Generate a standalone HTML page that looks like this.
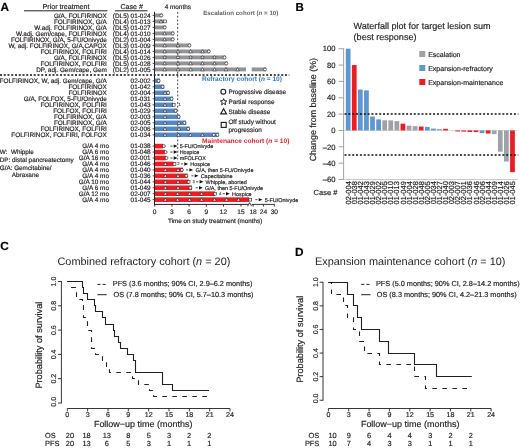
<!DOCTYPE html>
<html lang="en">
<head>
<meta charset="utf-8">
<title>Figure</title>
<style>
html,body{margin:0;padding:0;background:#fff;}
body{width:520px;height:448px;overflow:hidden;}
svg{display:block;}
svg text{font-family:'Liberation Sans', Arial, Helvetica, sans-serif;text-rendering:geometricPrecision;}
</style>
</head>
<body>
<svg width="520" height="448" viewBox="0 0 520 448" font-family="Liberation Sans, Arial, sans-serif" fill="#231f20">
<rect x="0" y="0" width="520" height="448" fill="#ffffff"/>
<text x="0.40" y="10.90" font-size="11.8" font-weight="bold" fill="#000" stroke="#000" stroke-width="0.18">A</text>
<text x="66.00" y="9.00" font-size="7.1" text-anchor="middle" stroke="#231f20" stroke-width="0.18">Prior treatment</text>
<line x1="24.00" y1="10.80" x2="107.50" y2="10.80" stroke="#231f20" stroke-width="1"/>
<text x="131.70" y="9.00" font-size="7.1" text-anchor="middle" stroke="#231f20" stroke-width="0.18">Case #</text>
<line x1="115.00" y1="10.80" x2="147.50" y2="10.80" stroke="#231f20" stroke-width="1"/>
<text x="177.80" y="9.00" font-size="6.4" text-anchor="middle" stroke="#231f20" stroke-width="0.18">4 months</text>
<text x="203.2" y="14.6" font-size="6.17" font-weight="bold" fill="#626366">Escalation cohort (<tspan font-style="italic">n</tspan> = 10)</text>
<text x="202" y="81.4" font-size="6.55" font-weight="bold" fill="#2e7cc0">Refractory cohort (<tspan font-style="italic">n</tspan> = 10)</text>
<text x="202" y="143.4" font-size="6.6" font-weight="bold" fill="#e5222b">Maintenance cohort (<tspan font-style="italic">n</tspan> = 10)</text>
<line x1="177.70" y1="12.00" x2="177.70" y2="159.50" stroke="#3a3a3a" stroke-width="0.95" stroke-dasharray="1.9 1.85"/>
<text x="106.80" y="17.65" font-size="6.4" text-anchor="end" stroke="#231f20" stroke-width="0.18">G/A, FOLFIRINOX</text>
<text x="150.50" y="17.65" font-size="6.4" text-anchor="end" stroke="#231f20" stroke-width="0.18">(DL5) 01-024</text>
<rect x="155.00" y="13.45" width="7.50" height="3.90" fill="#939496" />
<circle cx="161.30" cy="15.40" r="1.5" fill="#fff" stroke="#231f20" stroke-width="0.65"/>
<line x1="152.60" y1="15.40" x2="154.50" y2="15.40" stroke="#231f20" stroke-width="0.8"/>
<text x="106.80" y="23.65" font-size="6.4" text-anchor="end" stroke="#231f20" stroke-width="0.18">FOLFIRINOX, G/A</text>
<text x="150.50" y="23.65" font-size="6.4" text-anchor="end" stroke="#231f20" stroke-width="0.18">(DL4) 01-013</text>
<rect x="155.00" y="19.45" width="8.20" height="3.90" fill="#939496" />
<path d="M161.00 19.65L162.75 22.80L159.25 22.80Z" fill="#fff" stroke="#231f20" stroke-width="0.6"/>
<rect x="163.60" y="20.00" width="2.80" height="2.80" fill="#fff" stroke="#231f20" stroke-width="0.6"/>
<line x1="152.60" y1="21.40" x2="154.50" y2="21.40" stroke="#231f20" stroke-width="0.8"/>
<text x="106.80" y="29.65" font-size="6.4" text-anchor="end" stroke="#231f20" stroke-width="0.18">W.adj. FOLFIRINOX, G/A</text>
<text x="150.50" y="29.65" font-size="6.4" text-anchor="end" stroke="#231f20" stroke-width="0.18">(DL5) 01-027</text>
<rect x="155.00" y="25.45" width="11.00" height="3.90" fill="#939496" />
<circle cx="164.80" cy="27.40" r="1.5" fill="#fff" stroke="#231f20" stroke-width="0.65"/>
<line x1="152.60" y1="27.40" x2="154.50" y2="27.40" stroke="#231f20" stroke-width="0.8"/>
<text x="106.80" y="35.65" font-size="6.4" text-anchor="end" stroke="#231f20" stroke-width="0.18">W.adj. Gem/cape, FOLFIRINOX</text>
<text x="150.50" y="35.65" font-size="6.4" text-anchor="end" stroke="#231f20" stroke-width="0.18">(DL4) 01-010</text>
<rect x="155.00" y="31.45" width="19.00" height="3.90" fill="#939496" />
<path d="M164.60 31.65L166.35 34.80L162.85 34.80Z" fill="#fff" stroke="#231f20" stroke-width="0.6"/>
<circle cx="172.80" cy="33.40" r="1.5" fill="#fff" stroke="#231f20" stroke-width="0.65"/>
<line x1="152.60" y1="33.40" x2="154.50" y2="33.40" stroke="#231f20" stroke-width="0.8"/>
<text x="106.80" y="41.65" font-size="6.4" text-anchor="end" stroke="#231f20" stroke-width="0.18">FOLFIRINOX, G/A, 5-FU/Onivyde</text>
<text x="150.50" y="41.65" font-size="6.4" text-anchor="end" stroke="#231f20" stroke-width="0.18">(DL2) 01-004</text>
<rect x="155.00" y="37.45" width="19.00" height="3.90" fill="#939496" />
<path d="M164.60 37.65L166.35 40.80L162.85 40.80Z" fill="#fff" stroke="#231f20" stroke-width="0.6"/>
<circle cx="172.80" cy="39.40" r="1.5" fill="#fff" stroke="#231f20" stroke-width="0.65"/>
<line x1="152.60" y1="39.40" x2="154.50" y2="39.40" stroke="#231f20" stroke-width="0.8"/>
<text x="106.80" y="47.65" font-size="6.4" text-anchor="end" stroke="#231f20" stroke-width="0.18">W, adj. FOLFIRINOX, G/A,CAPOX</text>
<text x="150.50" y="47.65" font-size="6.4" text-anchor="end" stroke="#231f20" stroke-width="0.18">(DL3) 01-009</text>
<rect x="155.00" y="43.45" width="35.60" height="3.90" fill="#939496" />
<path d="M164.70 43.65L166.45 46.80L162.95 46.80Z" fill="#fff" stroke="#231f20" stroke-width="0.6"/>
<path d="M178.00 43.65L179.75 46.80L176.25 46.80Z" fill="#fff" stroke="#231f20" stroke-width="0.6"/>
<circle cx="189.40" cy="45.40" r="1.5" fill="#fff" stroke="#231f20" stroke-width="0.65"/>
<line x1="152.60" y1="45.40" x2="154.50" y2="45.40" stroke="#231f20" stroke-width="0.8"/>
<text x="106.80" y="53.65" font-size="6.4" text-anchor="end" stroke="#231f20" stroke-width="0.18">FOLFIRINOX, FOLFIRI</text>
<text x="150.50" y="53.65" font-size="6.4" text-anchor="end" stroke="#231f20" stroke-width="0.18">(DL4) 01-014</text>
<rect x="155.00" y="49.45" width="55.00" height="3.90" fill="#939496" />
<path d="M164.70 49.65L166.45 52.80L162.95 52.80Z" fill="#fff" stroke="#231f20" stroke-width="0.6"/>
<path d="M178.00 49.65L179.75 52.80L176.25 52.80Z" fill="#fff" stroke="#231f20" stroke-width="0.6"/>
<path d="M190.60 49.65L192.35 52.80L188.85 52.80Z" fill="#fff" stroke="#231f20" stroke-width="0.6"/>
<path d="M202.50 49.65L204.25 52.80L200.75 52.80Z" fill="#fff" stroke="#231f20" stroke-width="0.6"/>
<circle cx="208.80" cy="51.40" r="1.5" fill="#fff" stroke="#231f20" stroke-width="0.65"/>
<line x1="152.60" y1="51.40" x2="154.50" y2="51.40" stroke="#231f20" stroke-width="0.8"/>
<text x="106.80" y="59.65" font-size="6.4" text-anchor="end" stroke="#231f20" stroke-width="0.18">G/A, FOLFIRINOX</text>
<text x="150.50" y="59.65" font-size="6.4" text-anchor="end" stroke="#231f20" stroke-width="0.18">(DL5) 01-026</text>
<rect x="155.00" y="55.45" width="70.70" height="3.90" fill="#939496" />
<path d="M164.70 55.50L165.23 56.67L166.51 56.81L165.56 57.68L165.82 58.94L164.70 58.30L163.58 58.94L163.84 57.68L162.89 56.81L164.17 56.67Z" fill="#fff" stroke="#231f20" stroke-width="0.55"/>
<path d="M178.00 55.50L178.53 56.67L179.81 56.81L178.86 57.68L179.12 58.94L178.00 58.30L176.88 58.94L177.14 57.68L176.19 56.81L177.47 56.67Z" fill="#fff" stroke="#231f20" stroke-width="0.55"/>
<path d="M190.60 55.50L191.13 56.67L192.41 56.81L191.46 57.68L191.72 58.94L190.60 58.30L189.48 58.94L189.74 57.68L188.79 56.81L190.07 56.67Z" fill="#fff" stroke="#231f20" stroke-width="0.55"/>
<path d="M202.50 55.50L203.03 56.67L204.31 56.81L203.36 57.68L203.62 58.94L202.50 58.30L201.38 58.94L201.64 57.68L200.69 56.81L201.97 56.67Z" fill="#fff" stroke="#231f20" stroke-width="0.55"/>
<path d="M214.50 55.50L215.03 56.67L216.31 56.81L215.36 57.68L215.62 58.94L214.50 58.30L213.38 58.94L213.64 57.68L212.69 56.81L213.97 56.67Z" fill="#fff" stroke="#231f20" stroke-width="0.55"/>
<circle cx="224.50" cy="57.40" r="1.5" fill="#fff" stroke="#231f20" stroke-width="0.65"/>
<line x1="152.60" y1="57.40" x2="154.50" y2="57.40" stroke="#231f20" stroke-width="0.8"/>
<text x="106.80" y="65.65" font-size="6.4" text-anchor="end" stroke="#231f20" stroke-width="0.18">FOLFIRINOX, FOLFIRI</text>
<text x="150.50" y="65.65" font-size="6.4" text-anchor="end" stroke="#231f20" stroke-width="0.18">(DL5) 01-028</text>
<rect x="155.00" y="61.45" width="72.50" height="3.90" fill="#939496" />
<path d="M164.70 61.65L166.45 64.80L162.95 64.80Z" fill="#fff" stroke="#231f20" stroke-width="0.6"/>
<path d="M178.00 61.65L179.75 64.80L176.25 64.80Z" fill="#fff" stroke="#231f20" stroke-width="0.6"/>
<path d="M190.60 61.65L192.35 64.80L188.85 64.80Z" fill="#fff" stroke="#231f20" stroke-width="0.6"/>
<path d="M202.50 61.65L204.25 64.80L200.75 64.80Z" fill="#fff" stroke="#231f20" stroke-width="0.6"/>
<path d="M214.50 61.65L216.25 64.80L212.75 64.80Z" fill="#fff" stroke="#231f20" stroke-width="0.6"/>
<circle cx="226.30" cy="63.40" r="1.5" fill="#fff" stroke="#231f20" stroke-width="0.65"/>
<line x1="152.60" y1="63.40" x2="154.50" y2="63.40" stroke="#231f20" stroke-width="0.8"/>
<text x="106.80" y="71.65" font-size="6.4" text-anchor="end" stroke="#231f20" stroke-width="0.18">DP, adj. Gem/cape, Gem</text>
<text x="150.50" y="71.65" font-size="6.4" text-anchor="end" stroke="#231f20" stroke-width="0.18">(DL2) 01-005</text>
<rect x="155.00" y="67.45" width="91.00" height="3.90" fill="#939496" />
<rect x="251.70" y="67.45" width="14.30" height="3.90" fill="#939496" />
<circle cx="265.00" cy="69.40" r="1.5" fill="#fff" stroke="#231f20" stroke-width="0.65"/>
<path d="M164.70 67.65L166.45 70.80L162.95 70.80Z" fill="#fff" stroke="#231f20" stroke-width="0.6"/>
<path d="M178.00 67.65L179.75 70.80L176.25 70.80Z" fill="#fff" stroke="#231f20" stroke-width="0.6"/>
<path d="M190.70 67.65L192.45 70.80L188.95 70.80Z" fill="#fff" stroke="#231f20" stroke-width="0.6"/>
<path d="M202.50 67.65L204.25 70.80L200.75 70.80Z" fill="#fff" stroke="#231f20" stroke-width="0.6"/>
<path d="M214.50 67.65L216.25 70.80L212.75 70.80Z" fill="#fff" stroke="#231f20" stroke-width="0.6"/>
<path d="M226.00 67.65L227.75 70.80L224.25 70.80Z" fill="#fff" stroke="#231f20" stroke-width="0.6"/>
<path d="M237.50 67.65L239.25 70.80L235.75 70.80Z" fill="#fff" stroke="#231f20" stroke-width="0.6"/>
<line x1="152.60" y1="69.40" x2="154.50" y2="69.40" stroke="#231f20" stroke-width="0.8"/>
<line x1="0.00" y1="74.90" x2="289.30" y2="74.90" stroke="#111" stroke-width="1.5" stroke-dasharray="2 1.75"/>
<text x="106.80" y="83.05" font-size="6.4" text-anchor="end" stroke="#231f20" stroke-width="0.18">FOLFIRINOX, W, adj. Gem/cape, G/A</text>
<text x="150.50" y="83.05" font-size="6.4" text-anchor="end" stroke="#231f20" stroke-width="0.18">02-002</text>
<rect x="155.00" y="78.55" width="5.00" height="4.50" fill="#5587c4" />
<circle cx="158.60" cy="80.80" r="1.5" fill="#fff" stroke="#231f20" stroke-width="0.65"/>
<line x1="152.60" y1="80.80" x2="154.50" y2="80.80" stroke="#231f20" stroke-width="0.8"/>
<text x="106.80" y="89.05" font-size="6.4" text-anchor="end" stroke="#231f20" stroke-width="0.18">FOLFIRINOX</text>
<text x="150.50" y="89.05" font-size="6.4" text-anchor="end" stroke="#231f20" stroke-width="0.18">01-042</text>
<rect x="155.00" y="84.55" width="9.20" height="4.50" fill="#5587c4" />
<circle cx="162.60" cy="86.80" r="1.5" fill="#fff" stroke="#231f20" stroke-width="0.65"/>
<line x1="152.60" y1="86.80" x2="154.50" y2="86.80" stroke="#231f20" stroke-width="0.8"/>
<text x="106.80" y="95.05" font-size="6.4" text-anchor="end" stroke="#231f20" stroke-width="0.18">FOLFIRINOX</text>
<text x="150.50" y="95.05" font-size="6.4" text-anchor="end" stroke="#231f20" stroke-width="0.18">02-004</text>
<rect x="155.00" y="90.55" width="14.40" height="4.50" fill="#5587c4" />
<path d="M165.00 91.05L166.75 94.20L163.25 94.20Z" fill="#fff" stroke="#231f20" stroke-width="0.6"/>
<circle cx="168.10" cy="92.80" r="1.5" fill="#fff" stroke="#231f20" stroke-width="0.65"/>
<line x1="152.60" y1="92.80" x2="154.50" y2="92.80" stroke="#231f20" stroke-width="0.8"/>
<text x="106.80" y="101.05" font-size="6.4" text-anchor="end" stroke="#231f20" stroke-width="0.18">G/A, FOLFOX, 5-FU/Onivyde</text>
<text x="150.50" y="101.05" font-size="6.4" text-anchor="end" stroke="#231f20" stroke-width="0.18">01-031</text>
<rect x="155.00" y="96.55" width="18.00" height="4.50" fill="#5587c4" />
<path d="M165.00 97.05L166.75 100.20L163.25 100.20Z" fill="#fff" stroke="#231f20" stroke-width="0.6"/>
<circle cx="171.60" cy="98.80" r="1.5" fill="#fff" stroke="#231f20" stroke-width="0.65"/>
<line x1="152.60" y1="98.80" x2="154.50" y2="98.80" stroke="#231f20" stroke-width="0.8"/>
<text x="106.80" y="107.05" font-size="6.4" text-anchor="end" stroke="#231f20" stroke-width="0.18">FOLFIRINOX, FOLFIRI</text>
<text x="150.50" y="107.05" font-size="6.4" text-anchor="end" stroke="#231f20" stroke-width="0.18">01-043</text>
<rect x="155.00" y="102.55" width="18.00" height="4.50" fill="#5587c4" />
<path d="M165.00 103.05L166.75 106.20L163.25 106.20Z" fill="#fff" stroke="#231f20" stroke-width="0.6"/>
<rect x="172.30" y="103.40" width="2.80" height="2.80" fill="#fff" stroke="#231f20" stroke-width="0.6"/>
<line x1="152.60" y1="104.80" x2="154.50" y2="104.80" stroke="#231f20" stroke-width="0.8"/>
<text x="178.60" y="106.40" font-size="4.2" fill="#444" stroke="#444" stroke-width="0.18">1</text>
<text x="106.80" y="113.05" font-size="6.4" text-anchor="end" stroke="#231f20" stroke-width="0.18">FOLFOX, FOLFIRI</text>
<text x="150.50" y="113.05" font-size="6.4" text-anchor="end" stroke="#231f20" stroke-width="0.18">01-029</text>
<rect x="155.00" y="108.55" width="21.90" height="4.50" fill="#5587c4" />
<path d="M165.00 109.05L166.75 112.20L163.25 112.20Z" fill="#fff" stroke="#231f20" stroke-width="0.6"/>
<circle cx="175.60" cy="110.80" r="1.5" fill="#fff" stroke="#231f20" stroke-width="0.65"/>
<line x1="152.60" y1="110.80" x2="154.50" y2="110.80" stroke="#231f20" stroke-width="0.8"/>
<text x="106.80" y="119.05" font-size="6.4" text-anchor="end" stroke="#231f20" stroke-width="0.18">FOLFIRINOX, G/A</text>
<text x="150.50" y="119.05" font-size="6.4" text-anchor="end" stroke="#231f20" stroke-width="0.18">02-003</text>
<rect x="155.00" y="114.55" width="25.00" height="4.50" fill="#5587c4" />
<path d="M165.00 115.05L166.75 118.20L163.25 118.20Z" fill="#fff" stroke="#231f20" stroke-width="0.6"/>
<circle cx="178.70" cy="116.80" r="1.5" fill="#fff" stroke="#231f20" stroke-width="0.65"/>
<line x1="152.60" y1="116.80" x2="154.50" y2="116.80" stroke="#231f20" stroke-width="0.8"/>
<text x="106.80" y="125.05" font-size="6.4" text-anchor="end" stroke="#231f20" stroke-width="0.18">FOLFIRINOX, G/A</text>
<text x="150.50" y="125.05" font-size="6.4" text-anchor="end" stroke="#231f20" stroke-width="0.18">02-005</text>
<rect x="155.00" y="120.55" width="31.20" height="4.50" fill="#5587c4" />
<path d="M165.00 121.05L166.75 124.20L163.25 124.20Z" fill="#fff" stroke="#231f20" stroke-width="0.6"/>
<path d="M179.00 121.05L180.75 124.20L177.25 124.20Z" fill="#fff" stroke="#231f20" stroke-width="0.6"/>
<circle cx="184.40" cy="122.80" r="1.5" fill="#fff" stroke="#231f20" stroke-width="0.65"/>
<line x1="152.60" y1="122.80" x2="154.50" y2="122.80" stroke="#231f20" stroke-width="0.8"/>
<text x="106.80" y="131.05" font-size="6.4" text-anchor="end" stroke="#231f20" stroke-width="0.18">FOLFIRINOX, FOLFIRI</text>
<text x="150.50" y="131.05" font-size="6.4" text-anchor="end" stroke="#231f20" stroke-width="0.18">02-006</text>
<rect x="155.00" y="126.55" width="34.70" height="4.50" fill="#5587c4" />
<path d="M165.00 127.05L166.75 130.20L163.25 130.20Z" fill="#fff" stroke="#231f20" stroke-width="0.6"/>
<path d="M179.00 127.05L180.75 130.20L177.25 130.20Z" fill="#fff" stroke="#231f20" stroke-width="0.6"/>
<circle cx="188.20" cy="128.80" r="1.5" fill="#fff" stroke="#231f20" stroke-width="0.65"/>
<line x1="152.60" y1="128.80" x2="154.50" y2="128.80" stroke="#231f20" stroke-width="0.8"/>
<text x="106.80" y="137.05" font-size="6.4" text-anchor="end" stroke="#231f20" stroke-width="0.18">FOLFIRINOX, FOLFIRI, FOLFOX</text>
<text x="150.50" y="137.05" font-size="6.4" text-anchor="end" stroke="#231f20" stroke-width="0.18">01-034</text>
<rect x="155.00" y="132.55" width="63.70" height="4.50" fill="#5587c4" />
<path d="M165.00 133.05L166.75 136.20L163.25 136.20Z" fill="#fff" stroke="#231f20" stroke-width="0.6"/>
<path d="M178.50 133.05L180.25 136.20L176.75 136.20Z" fill="#fff" stroke="#231f20" stroke-width="0.6"/>
<path d="M190.30 133.05L192.05 136.20L188.55 136.20Z" fill="#fff" stroke="#231f20" stroke-width="0.6"/>
<path d="M202.50 133.05L204.25 136.20L200.75 136.20Z" fill="#fff" stroke="#231f20" stroke-width="0.6"/>
<circle cx="213.80" cy="134.80" r="1.5" fill="#fff" stroke="#231f20" stroke-width="0.65"/>
<circle cx="217.40" cy="134.80" r="1.5" fill="#fff" stroke="#231f20" stroke-width="0.65"/>
<line x1="152.60" y1="134.80" x2="154.50" y2="134.80" stroke="#231f20" stroke-width="0.8"/>
<text x="109.00" y="148.35" font-size="6.4" text-anchor="end" stroke="#231f20" stroke-width="0.18">G/A 4 mo</text>
<text x="150.50" y="148.35" font-size="6.4" text-anchor="end" stroke="#231f20" stroke-width="0.18">01-038</text>
<rect x="155.00" y="143.80" width="8.00" height="4.60" fill="#ec1c24" />
<circle cx="163.90" cy="146.10" r="1.5" fill="#fff" stroke="#231f20" stroke-width="0.65"/>
<line x1="152.60" y1="146.10" x2="154.50" y2="146.10" stroke="#231f20" stroke-width="0.8"/>
<line x1="170.30" y1="146.10" x2="172.50" y2="146.10" stroke="#231f20" stroke-width="0.8"/>
<path d="M173.70 144.40L177.50 146.10L173.70 147.80Z" fill="#111"/>
<text x="179.70" y="148.10" font-size="5.45" stroke="#231f20" stroke-width="0.18">5-FU/Onivyde</text>
<text x="109.00" y="154.30" font-size="6.4" text-anchor="end" stroke="#231f20" stroke-width="0.18">G/A 6 mo</text>
<text x="150.50" y="154.30" font-size="6.4" text-anchor="end" stroke="#231f20" stroke-width="0.18">01-048</text>
<rect x="155.00" y="149.75" width="10.00" height="4.60" fill="#ec1c24" />
<circle cx="165.60" cy="152.05" r="1.5" fill="#fff" stroke="#231f20" stroke-width="0.65"/>
<line x1="152.60" y1="152.05" x2="154.50" y2="152.05" stroke="#231f20" stroke-width="0.8"/>
<line x1="170.30" y1="152.05" x2="172.50" y2="152.05" stroke="#231f20" stroke-width="0.8"/>
<path d="M173.70 150.35L177.50 152.05L173.70 153.75Z" fill="#111"/>
<text x="179.70" y="154.05" font-size="5.45" stroke="#231f20" stroke-width="0.18">Hospice</text>
<text x="109.00" y="160.25" font-size="6.4" text-anchor="end" stroke="#231f20" stroke-width="0.18">G/A 16 mo</text>
<text x="150.50" y="160.25" font-size="6.4" text-anchor="end" stroke="#231f20" stroke-width="0.18">02-001</text>
<rect x="155.00" y="155.70" width="11.20" height="4.60" fill="#ec1c24" />
<circle cx="166.50" cy="158.00" r="1.5" fill="#fff" stroke="#231f20" stroke-width="0.65"/>
<line x1="152.60" y1="158.00" x2="154.50" y2="158.00" stroke="#231f20" stroke-width="0.8"/>
<line x1="170.30" y1="158.00" x2="172.50" y2="158.00" stroke="#231f20" stroke-width="0.8"/>
<path d="M173.70 156.30L177.50 158.00L173.70 159.70Z" fill="#111"/>
<text x="179.70" y="160.00" font-size="5.45" stroke="#231f20" stroke-width="0.18">mFOLFOX</text>
<text x="109.00" y="166.20" font-size="6.4" text-anchor="end" stroke="#231f20" stroke-width="0.18">G/A 4 mo</text>
<text x="150.50" y="166.20" font-size="6.4" text-anchor="end" stroke="#231f20" stroke-width="0.18">01-046</text>
<rect x="155.00" y="161.65" width="18.40" height="4.60" fill="#ec1c24" />
<path d="M165.30 162.20L167.05 165.35L163.55 165.35Z" fill="#fff" stroke="#231f20" stroke-width="0.6"/>
<rect x="173.10" y="162.55" width="2.80" height="2.80" fill="#fff" stroke="#231f20" stroke-width="0.6"/>
<line x1="152.60" y1="163.95" x2="154.50" y2="163.95" stroke="#231f20" stroke-width="0.8"/>
<text x="177.30" y="165.45" font-size="4.2" fill="#555" stroke="#555" stroke-width="0.18">2</text>
<line x1="180.90" y1="163.95" x2="183.10" y2="163.95" stroke="#231f20" stroke-width="0.8"/>
<path d="M184.30 162.25L188.10 163.95L184.30 165.65Z" fill="#111"/>
<text x="190.30" y="165.95" font-size="5.45" stroke="#231f20" stroke-width="0.18">Hospice</text>
<text x="109.00" y="172.15" font-size="6.4" text-anchor="end" stroke="#231f20" stroke-width="0.18">G/A 4 mo</text>
<text x="150.50" y="172.15" font-size="6.4" text-anchor="end" stroke="#231f20" stroke-width="0.18">01-040</text>
<rect x="155.00" y="167.60" width="28.00" height="4.60" fill="#ec1c24" />
<path d="M165.30 168.15L167.05 171.30L163.55 171.30Z" fill="#fff" stroke="#231f20" stroke-width="0.6"/>
<path d="M178.00 168.15L179.75 171.30L176.25 171.30Z" fill="#fff" stroke="#231f20" stroke-width="0.6"/>
<circle cx="181.90" cy="169.90" r="1.5" fill="#fff" stroke="#231f20" stroke-width="0.65"/>
<line x1="152.60" y1="169.90" x2="154.50" y2="169.90" stroke="#231f20" stroke-width="0.8"/>
<line x1="186.00" y1="169.90" x2="188.20" y2="169.90" stroke="#231f20" stroke-width="0.8"/>
<path d="M189.40 168.20L193.20 169.90L189.40 171.60Z" fill="#111"/>
<text x="195.40" y="171.90" font-size="5.45" stroke="#231f20" stroke-width="0.18">G/A, then 5-FU/Onivyde</text>
<text x="109.00" y="178.10" font-size="6.4" text-anchor="end" stroke="#231f20" stroke-width="0.18">G/A 4 mo</text>
<text x="150.50" y="178.10" font-size="6.4" text-anchor="end" stroke="#231f20" stroke-width="0.18">01-036</text>
<rect x="155.00" y="173.55" width="32.60" height="4.60" fill="#ec1c24" />
<path d="M165.30 174.10L167.05 177.25L163.55 177.25Z" fill="#fff" stroke="#231f20" stroke-width="0.6"/>
<path d="M178.00 174.10L179.75 177.25L176.25 177.25Z" fill="#fff" stroke="#231f20" stroke-width="0.6"/>
<circle cx="186.30" cy="175.85" r="1.5" fill="#fff" stroke="#231f20" stroke-width="0.65"/>
<line x1="152.60" y1="175.85" x2="154.50" y2="175.85" stroke="#231f20" stroke-width="0.8"/>
<line x1="191.30" y1="175.85" x2="193.50" y2="175.85" stroke="#231f20" stroke-width="0.8"/>
<path d="M194.70 174.15L198.50 175.85L194.70 177.55Z" fill="#111"/>
<text x="200.70" y="177.85" font-size="5.45" stroke="#231f20" stroke-width="0.18">Capecitabine</text>
<text x="109.00" y="184.05" font-size="6.4" text-anchor="end" stroke="#231f20" stroke-width="0.18">G/A 10 mo</text>
<text x="150.50" y="184.05" font-size="6.4" text-anchor="end" stroke="#231f20" stroke-width="0.18">01-044</text>
<rect x="155.00" y="179.50" width="34.00" height="4.60" fill="#ec1c24" />
<path d="M165.30 180.05L167.05 183.20L163.55 183.20Z" fill="#fff" stroke="#231f20" stroke-width="0.6"/>
<path d="M178.00 180.05L179.75 183.20L176.25 183.20Z" fill="#fff" stroke="#231f20" stroke-width="0.6"/>
<rect x="187.20" y="180.40" width="2.80" height="2.80" fill="#fff" stroke="#231f20" stroke-width="0.6"/>
<line x1="152.60" y1="181.80" x2="154.50" y2="181.80" stroke="#231f20" stroke-width="0.8"/>
<text x="192.60" y="183.30" font-size="4.2" fill="#555" stroke="#555" stroke-width="0.18">3</text>
<line x1="196.20" y1="181.80" x2="198.40" y2="181.80" stroke="#231f20" stroke-width="0.8"/>
<path d="M199.60 180.10L203.40 181.80L199.60 183.50Z" fill="#111"/>
<text x="205.60" y="183.80" font-size="5.45" stroke="#231f20" stroke-width="0.18">Whipple, aborted</text>
<text x="109.00" y="190.00" font-size="6.4" text-anchor="end" stroke="#231f20" stroke-width="0.18">G/A 6 mo</text>
<text x="150.50" y="190.00" font-size="6.4" text-anchor="end" stroke="#231f20" stroke-width="0.18">01-049</text>
<rect x="155.00" y="185.45" width="37.00" height="4.60" fill="#ec1c24" />
<path d="M165.30 186.00L167.05 189.15L163.55 189.15Z" fill="#fff" stroke="#231f20" stroke-width="0.6"/>
<path d="M178.00 186.00L179.75 189.15L176.25 189.15Z" fill="#fff" stroke="#231f20" stroke-width="0.6"/>
<circle cx="190.40" cy="187.75" r="1.5" fill="#fff" stroke="#231f20" stroke-width="0.65"/>
<line x1="152.60" y1="187.75" x2="154.50" y2="187.75" stroke="#231f20" stroke-width="0.8"/>
<line x1="195.60" y1="187.75" x2="197.80" y2="187.75" stroke="#231f20" stroke-width="0.8"/>
<path d="M199.00 186.05L202.80 187.75L199.00 189.45Z" fill="#111"/>
<text x="205.00" y="189.75" font-size="5.45" stroke="#231f20" stroke-width="0.18">G/A, then 5-FU/Onivyde</text>
<text x="109.00" y="195.95" font-size="6.4" text-anchor="end" stroke="#231f20" stroke-width="0.18">G/A 12 mo</text>
<text x="150.50" y="195.95" font-size="6.4" text-anchor="end" stroke="#231f20" stroke-width="0.18">02-007</text>
<rect x="155.00" y="191.40" width="60.00" height="4.60" fill="#ec1c24" />
<path d="M165.30 191.95L167.05 195.10L163.55 195.10Z" fill="#fff" stroke="#231f20" stroke-width="0.6"/>
<path d="M177.60 191.95L179.35 195.10L175.85 195.10Z" fill="#fff" stroke="#231f20" stroke-width="0.6"/>
<path d="M189.50 191.95L191.25 195.10L187.75 195.10Z" fill="#fff" stroke="#231f20" stroke-width="0.6"/>
<path d="M201.60 191.95L203.35 195.10L199.85 195.10Z" fill="#fff" stroke="#231f20" stroke-width="0.6"/>
<rect x="213.80" y="192.30" width="2.80" height="2.80" fill="#fff" stroke="#231f20" stroke-width="0.6"/>
<line x1="152.60" y1="193.70" x2="154.50" y2="193.70" stroke="#231f20" stroke-width="0.8"/>
<text x="219.00" y="195.20" font-size="4.2" fill="#555" stroke="#555" stroke-width="0.18">4</text>
<line x1="222.60" y1="193.70" x2="224.80" y2="193.70" stroke="#231f20" stroke-width="0.8"/>
<path d="M226.00 192.00L229.80 193.70L226.00 195.40Z" fill="#111"/>
<text x="232.00" y="195.70" font-size="5.45" stroke="#231f20" stroke-width="0.18">Hospice</text>
<text x="109.00" y="201.90" font-size="6.4" text-anchor="end" stroke="#231f20" stroke-width="0.18">G/A 4 mo</text>
<text x="150.50" y="201.90" font-size="6.4" text-anchor="end" stroke="#231f20" stroke-width="0.18">01-045</text>
<rect x="155.00" y="197.35" width="94.00" height="4.60" fill="#ec1c24" />
<path d="M165.30 197.90L167.05 201.05L163.55 201.05Z" fill="#fff" stroke="#231f20" stroke-width="0.6"/>
<path d="M177.60 197.90L179.35 201.05L175.85 201.05Z" fill="#fff" stroke="#231f20" stroke-width="0.6"/>
<path d="M189.50 197.90L191.25 201.05L187.75 201.05Z" fill="#fff" stroke="#231f20" stroke-width="0.6"/>
<path d="M201.60 197.90L203.35 201.05L199.85 201.05Z" fill="#fff" stroke="#231f20" stroke-width="0.6"/>
<path d="M214.50 197.90L216.25 201.05L212.75 201.05Z" fill="#fff" stroke="#231f20" stroke-width="0.6"/>
<path d="M226.60 197.90L228.35 201.05L224.85 201.05Z" fill="#fff" stroke="#231f20" stroke-width="0.6"/>
<path d="M238.40 197.90L240.15 201.05L236.65 201.05Z" fill="#fff" stroke="#231f20" stroke-width="0.6"/>
<rect x="248.90" y="198.25" width="2.80" height="2.80" fill="#fff" stroke="#231f20" stroke-width="0.6"/>
<line x1="152.60" y1="199.65" x2="154.50" y2="199.65" stroke="#231f20" stroke-width="0.8"/>
<line x1="255.30" y1="199.65" x2="257.50" y2="199.65" stroke="#231f20" stroke-width="0.8"/>
<path d="M258.70 197.95L262.50 199.65L258.70 201.35Z" fill="#111"/>
<text x="264.70" y="201.65" font-size="5.45" stroke="#231f20" stroke-width="0.18">5-FU/Onivyde</text>
<line x1="154.50" y1="11.80" x2="154.50" y2="204.80" stroke="#231f20" stroke-width="1.0"/>
<line x1="154.00" y1="204.40" x2="248.20" y2="204.40" stroke="#231f20" stroke-width="1.0"/>
<path d="M247.6 206.3L249.6 202.6L251.3 205.6L252.2 204.4L274.6 204.4" fill="none" stroke="#231f20" stroke-width="0.9"/>
<line x1="154.70" y1="204.40" x2="154.70" y2="206.60" stroke="#231f20" stroke-width="0.9"/>
<text x="154.70" y="213.60" font-size="6.6" text-anchor="middle" stroke="#231f20" stroke-width="0.18">0</text>
<line x1="171.90" y1="204.40" x2="171.90" y2="206.60" stroke="#231f20" stroke-width="0.9"/>
<text x="171.90" y="213.60" font-size="6.6" text-anchor="middle" stroke="#231f20" stroke-width="0.18">3</text>
<line x1="189.10" y1="204.40" x2="189.10" y2="206.60" stroke="#231f20" stroke-width="0.9"/>
<text x="189.10" y="213.60" font-size="6.6" text-anchor="middle" stroke="#231f20" stroke-width="0.18">6</text>
<line x1="206.30" y1="204.40" x2="206.30" y2="206.60" stroke="#231f20" stroke-width="0.9"/>
<text x="206.30" y="213.60" font-size="6.6" text-anchor="middle" stroke="#231f20" stroke-width="0.18">9</text>
<line x1="223.50" y1="204.40" x2="223.50" y2="206.60" stroke="#231f20" stroke-width="0.9"/>
<text x="223.50" y="213.60" font-size="6.6" text-anchor="middle" stroke="#231f20" stroke-width="0.18">12</text>
<line x1="241.00" y1="204.40" x2="241.00" y2="206.60" stroke="#231f20" stroke-width="0.9"/>
<text x="241.00" y="213.60" font-size="6.6" text-anchor="middle" stroke="#231f20" stroke-width="0.18">15</text>
<line x1="253.10" y1="204.40" x2="253.10" y2="206.60" stroke="#231f20" stroke-width="0.9"/>
<text x="253.10" y="213.60" font-size="6.6" text-anchor="middle" stroke="#231f20" stroke-width="0.18">18</text>
<line x1="263.40" y1="204.40" x2="263.40" y2="206.60" stroke="#231f20" stroke-width="0.9"/>
<text x="263.40" y="213.60" font-size="6.6" text-anchor="middle" stroke="#231f20" stroke-width="0.18">24</text>
<line x1="274.30" y1="204.40" x2="274.30" y2="206.60" stroke="#231f20" stroke-width="0.9"/>
<text x="274.30" y="213.60" font-size="6.6" text-anchor="middle" stroke="#231f20" stroke-width="0.18">30</text>
<text x="215.20" y="222.90" font-size="6.3" text-anchor="middle" stroke="#231f20" stroke-width="0.18">Time on study treatment (months)</text>
<circle cx="223.30" cy="91.70" r="2.45" fill="#fff" stroke="#231f20" stroke-width="1.2"/>
<text x="228.40" y="93.90" font-size="6.4" stroke="#231f20" stroke-width="0.18">Progressive disease</text>
<path d="M223.60 98.60L224.48 100.79L226.83 100.95L225.03 102.46L225.60 104.75L223.60 103.50L221.60 104.75L222.17 102.46L220.37 100.95L222.72 100.79Z" fill="#fff" stroke="#231f20" stroke-width="1.0"/>
<text x="228.40" y="103.60" font-size="6.4" stroke="#231f20" stroke-width="0.18">Partial response</text>
<path d="M223.60 108.70L226.50 113.92L220.70 113.92Z" fill="#fff" stroke="#231f20" stroke-width="1.15"/>
<text x="228.40" y="113.50" font-size="6.4" stroke="#231f20" stroke-width="0.18">Stable disease</text>
<rect x="221.20" y="122.40" width="5.00" height="5.00" fill="#fff" stroke="#231f20" stroke-width="1.15"/>
<text x="228.40" y="123.90" font-size="6.4" stroke="#231f20" stroke-width="0.18">Off study without</text>
<text x="228.40" y="131.60" font-size="6.4" stroke="#231f20" stroke-width="0.18">progression</text>
<text x="-0.20" y="154.20" font-size="6.35" stroke="#231f20" stroke-width="0.18">W:</text>
<text x="10.90" y="154.20" font-size="6.35" stroke="#231f20" stroke-width="0.18">Whipple</text>
<text x="-0.30" y="161.80" font-size="6.35" stroke="#231f20" stroke-width="0.18">DP: distal pancreatectomy</text>
<text x="-0.30" y="169.50" font-size="6.35" stroke="#231f20" stroke-width="0.18">G/A: Gemcitabine/</text>
<text x="11.80" y="176.80" font-size="6.35" stroke="#231f20" stroke-width="0.18">Abraxane</text>
<text x="295.60" y="11.20" font-size="11.5" font-weight="bold" fill="#000" stroke="#000" stroke-width="0.18">B</text>
<text x="353.60" y="29.00" font-size="9.05" stroke="#231f20" stroke-width="0.18">Waterfall plot for target lesion sum</text>
<text x="353.60" y="39.70" font-size="9.05" stroke="#231f20" stroke-width="0.18">(best response)</text>
<line x1="343.60" y1="48.40" x2="343.60" y2="179.90" stroke="#98999c" stroke-width="0.9"/>
<line x1="343.20" y1="179.50" x2="518.00" y2="179.50" stroke="#bcbec0" stroke-width="0.8"/>
<line x1="343.60" y1="130.45" x2="518.00" y2="130.45" stroke="#c9cacc" stroke-width="0.7"/>
<line x1="338.60" y1="48.70" x2="343.60" y2="48.70" stroke="#98999c" stroke-width="0.9"/>
<text x="335.50" y="51.40" font-size="7.6" text-anchor="end" stroke="#231f20" stroke-width="0.18">100</text>
<line x1="338.60" y1="65.05" x2="343.60" y2="65.05" stroke="#98999c" stroke-width="0.9"/>
<text x="335.50" y="67.75" font-size="7.6" text-anchor="end" stroke="#231f20" stroke-width="0.18">80</text>
<line x1="338.60" y1="81.40" x2="343.60" y2="81.40" stroke="#98999c" stroke-width="0.9"/>
<text x="335.50" y="84.10" font-size="7.6" text-anchor="end" stroke="#231f20" stroke-width="0.18">60</text>
<line x1="338.60" y1="97.75" x2="343.60" y2="97.75" stroke="#98999c" stroke-width="0.9"/>
<text x="335.50" y="100.45" font-size="7.6" text-anchor="end" stroke="#231f20" stroke-width="0.18">40</text>
<line x1="338.60" y1="114.10" x2="343.60" y2="114.10" stroke="#98999c" stroke-width="0.9"/>
<text x="335.50" y="116.80" font-size="7.6" text-anchor="end" stroke="#231f20" stroke-width="0.18">20</text>
<line x1="338.60" y1="130.45" x2="343.60" y2="130.45" stroke="#98999c" stroke-width="0.9"/>
<text x="335.50" y="133.15" font-size="7.6" text-anchor="end" stroke="#231f20" stroke-width="0.18">0</text>
<line x1="338.60" y1="146.80" x2="343.60" y2="146.80" stroke="#98999c" stroke-width="0.9"/>
<text x="335.50" y="149.50" font-size="7.6" text-anchor="end" stroke="#231f20" stroke-width="0.18">–20</text>
<line x1="338.60" y1="163.15" x2="343.60" y2="163.15" stroke="#98999c" stroke-width="0.9"/>
<text x="335.50" y="165.85" font-size="7.6" text-anchor="end" stroke="#231f20" stroke-width="0.18">–40</text>
<line x1="338.60" y1="179.50" x2="343.60" y2="179.50" stroke="#98999c" stroke-width="0.9"/>
<text x="335.50" y="182.20" font-size="7.6" text-anchor="end" stroke="#231f20" stroke-width="0.18">–60</text>
<rect x="345.80" y="48.70" width="4.75" height="81.75" fill="#5e98d2" />
<text x="350.78" y="181.20" font-size="7.45" text-anchor="end" stroke="#231f20" stroke-width="0.18" transform="rotate(-90 350.78 181.20)">02-004</text>
<rect x="351.88" y="65.05" width="4.75" height="65.40" fill="#ed1c24" />
<text x="356.86" y="181.20" font-size="7.45" text-anchor="end" stroke="#231f20" stroke-width="0.18" transform="rotate(-90 356.86 181.20)">01-038</text>
<rect x="357.97" y="89.57" width="4.75" height="40.88" fill="#5e98d2" />
<text x="362.95" y="181.20" font-size="7.45" text-anchor="end" stroke="#231f20" stroke-width="0.18" transform="rotate(-90 362.95 181.20)">01-042</text>
<rect x="364.06" y="90.39" width="4.75" height="40.06" fill="#5e98d2" />
<text x="369.03" y="181.20" font-size="7.45" text-anchor="end" stroke="#231f20" stroke-width="0.18" transform="rotate(-90 369.03 181.20)">01-043</text>
<rect x="370.14" y="116.55" width="4.75" height="13.90" fill="#5e98d2" />
<text x="375.12" y="181.20" font-size="7.45" text-anchor="end" stroke="#231f20" stroke-width="0.18" transform="rotate(-90 375.12 181.20)">01-029</text>
<rect x="376.23" y="119.41" width="4.75" height="11.04" fill="#5e98d2" />
<text x="381.20" y="181.20" font-size="7.45" text-anchor="end" stroke="#231f20" stroke-width="0.18" transform="rotate(-90 381.20 181.20)">02-002</text>
<rect x="382.31" y="120.31" width="4.75" height="10.14" fill="#a1a2a5" />
<text x="387.29" y="181.20" font-size="7.45" text-anchor="end" stroke="#231f20" stroke-width="0.18" transform="rotate(-90 387.29 181.20)">01-005</text>
<rect x="388.39" y="120.39" width="4.75" height="10.06" fill="#a1a2a5" />
<text x="393.37" y="181.20" font-size="7.45" text-anchor="end" stroke="#231f20" stroke-width="0.18" transform="rotate(-90 393.37 181.20)">01-010</text>
<rect x="394.48" y="121.13" width="4.75" height="9.32" fill="#a1a2a5" />
<text x="399.46" y="181.20" font-size="7.45" text-anchor="end" stroke="#231f20" stroke-width="0.18" transform="rotate(-90 399.46 181.20)">01-013</text>
<rect x="400.56" y="123.66" width="4.75" height="6.79" fill="#ed1c24" />
<text x="405.54" y="181.20" font-size="7.45" text-anchor="end" stroke="#231f20" stroke-width="0.18" transform="rotate(-90 405.54 181.20)">01-049</text>
<rect x="406.65" y="125.63" width="4.75" height="4.82" fill="#a1a2a5" />
<text x="411.63" y="181.20" font-size="7.45" text-anchor="end" stroke="#231f20" stroke-width="0.18" transform="rotate(-90 411.63 181.20)">01-004</text>
<rect x="412.74" y="126.12" width="4.75" height="4.33" fill="#a1a2a5" />
<text x="417.71" y="181.20" font-size="7.45" text-anchor="end" stroke="#231f20" stroke-width="0.18" transform="rotate(-90 417.71 181.20)">01-028</text>
<rect x="418.82" y="126.53" width="4.75" height="3.92" fill="#ed1c24" />
<text x="423.80" y="181.20" font-size="7.45" text-anchor="end" stroke="#231f20" stroke-width="0.18" transform="rotate(-90 423.80 181.20)">01-048</text>
<rect x="424.91" y="126.93" width="4.75" height="3.52" fill="#5e98d2" />
<text x="429.88" y="181.20" font-size="7.45" text-anchor="end" stroke="#231f20" stroke-width="0.18" transform="rotate(-90 429.88 181.20)">02-005</text>
<rect x="430.99" y="128.65" width="4.75" height="1.80" fill="#5e98d2" />
<text x="435.97" y="181.20" font-size="7.45" text-anchor="end" stroke="#231f20" stroke-width="0.18" transform="rotate(-90 435.97 181.20)">01-034</text>
<rect x="437.08" y="128.98" width="4.75" height="1.47" fill="#a1a2a5" />
<text x="442.05" y="181.20" font-size="7.45" text-anchor="end" stroke="#231f20" stroke-width="0.18" transform="rotate(-90 442.05 181.20)">01-027</text>
<rect x="443.16" y="128.81" width="4.75" height="1.64" fill="#ed1c24" />
<text x="448.14" y="181.20" font-size="7.45" text-anchor="end" stroke="#231f20" stroke-width="0.18" transform="rotate(-90 448.14 181.20)">01-040</text>
<text x="454.22" y="181.20" font-size="7.45" text-anchor="end" stroke="#231f20" stroke-width="0.18" transform="rotate(-90 454.22 181.20)">02-003</text>
<rect x="455.33" y="130.45" width="4.75" height="0.98" fill="#ed1c24" />
<text x="460.31" y="181.20" font-size="7.45" text-anchor="end" stroke="#231f20" stroke-width="0.18" transform="rotate(-90 460.31 181.20)">02-007</text>
<rect x="461.42" y="130.45" width="4.75" height="1.14" fill="#ed1c24" />
<text x="466.39" y="181.20" font-size="7.45" text-anchor="end" stroke="#231f20" stroke-width="0.18" transform="rotate(-90 466.39 181.20)">02-001</text>
<rect x="467.50" y="130.45" width="4.75" height="1.55" fill="#ed1c24" />
<text x="472.48" y="181.20" font-size="7.45" text-anchor="end" stroke="#231f20" stroke-width="0.18" transform="rotate(-90 472.48 181.20)">01-036</text>
<rect x="473.59" y="130.45" width="4.75" height="1.64" fill="#ed1c24" />
<text x="478.56" y="181.20" font-size="7.45" text-anchor="end" stroke="#231f20" stroke-width="0.18" transform="rotate(-90 478.56 181.20)">01-046</text>
<rect x="479.67" y="130.45" width="4.75" height="2.70" fill="#5e98d2" />
<text x="484.65" y="181.20" font-size="7.45" text-anchor="end" stroke="#231f20" stroke-width="0.18" transform="rotate(-90 484.65 181.20)">02-006</text>
<rect x="485.75" y="130.45" width="4.75" height="3.11" fill="#ed1c24" />
<text x="490.73" y="181.20" font-size="7.45" text-anchor="end" stroke="#231f20" stroke-width="0.18" transform="rotate(-90 490.73 181.20)">01-044</text>
<rect x="491.84" y="130.45" width="4.75" height="3.60" fill="#a1a2a5" />
<text x="496.82" y="181.20" font-size="7.45" text-anchor="end" stroke="#231f20" stroke-width="0.18" transform="rotate(-90 496.82 181.20)">01-009</text>
<rect x="497.93" y="130.45" width="4.75" height="21.25" fill="#a1a2a5" />
<text x="502.90" y="181.20" font-size="7.45" text-anchor="end" stroke="#231f20" stroke-width="0.18" transform="rotate(-90 502.90 181.20)">01-014</text>
<rect x="504.01" y="130.45" width="4.75" height="31.07" fill="#a1a2a5" />
<text x="508.99" y="181.20" font-size="7.45" text-anchor="end" stroke="#231f20" stroke-width="0.18" transform="rotate(-90 508.99 181.20)">01-026</text>
<rect x="510.10" y="130.45" width="4.75" height="41.69" fill="#ed1c24" />
<text x="515.07" y="181.20" font-size="7.45" text-anchor="end" stroke="#231f20" stroke-width="0.18" transform="rotate(-90 515.07 181.20)">01-045</text>
<line x1="344.50" y1="113.90" x2="518.30" y2="113.90" stroke="#111" stroke-width="1.5" stroke-dasharray="2 1.85"/>
<line x1="344.50" y1="155.10" x2="518.30" y2="155.10" stroke="#111" stroke-width="1.5" stroke-dasharray="2 1.85"/>
<text x="313.60" y="194.60" font-size="7.5" stroke="#231f20" stroke-width="0.18">Case #</text>
<text x="315.90" y="161.30" font-size="8.9" stroke="#231f20" stroke-width="0.18" transform="rotate(-90 315.90 161.30)" textLength="103.40" lengthAdjust="spacingAndGlyphs">Change from baseline (%)</text>
<rect x="419.30" y="51.00" width="6.00" height="6.00" fill="#a1a2a5" />
<text x="428.20" y="56.50" font-size="7.0" stroke="#231f20" stroke-width="0.18">Escalation</text>
<rect x="419.30" y="65.00" width="6.00" height="6.00" fill="#5e98d2" />
<text x="428.20" y="70.50" font-size="7.0" stroke="#231f20" stroke-width="0.18">Expansion-refractory</text>
<rect x="419.30" y="79.00" width="6.00" height="6.00" fill="#ed1c24" />
<text x="428.20" y="84.50" font-size="7.0" stroke="#231f20" stroke-width="0.18">Expansion-maintenance</text>
<text x="0.30" y="249.50" font-size="11.8" font-weight="bold" fill="#000" stroke="#000" stroke-width="0.18">C</text>
<text x="57.5" y="265.2" font-size="10.9" fill="#231f20">Combined refractory cohort (<tspan font-style="italic">n</tspan> = 20)</text>
<line x1="61.40" y1="281.10" x2="61.40" y2="403.40" stroke="#231f20" stroke-width="0.9"/>
<line x1="58.00" y1="403.00" x2="61.40" y2="403.00" stroke="#231f20" stroke-width="0.9"/>
<text x="56.10" y="401.80" font-size="7.0" text-anchor="middle" stroke="#231f20" stroke-width="0.18" transform="rotate(-90 56.10 401.80)">0.0</text>
<line x1="58.00" y1="378.70" x2="61.40" y2="378.70" stroke="#231f20" stroke-width="0.9"/>
<text x="56.10" y="378.70" font-size="7.0" text-anchor="middle" stroke="#231f20" stroke-width="0.18" transform="rotate(-90 56.10 378.70)">0.2</text>
<line x1="58.00" y1="354.40" x2="61.40" y2="354.40" stroke="#231f20" stroke-width="0.9"/>
<text x="56.10" y="354.40" font-size="7.0" text-anchor="middle" stroke="#231f20" stroke-width="0.18" transform="rotate(-90 56.10 354.40)">0.4</text>
<line x1="58.00" y1="330.10" x2="61.40" y2="330.10" stroke="#231f20" stroke-width="0.9"/>
<text x="56.10" y="330.10" font-size="7.0" text-anchor="middle" stroke="#231f20" stroke-width="0.18" transform="rotate(-90 56.10 330.10)">0.6</text>
<line x1="58.00" y1="305.80" x2="61.40" y2="305.80" stroke="#231f20" stroke-width="0.9"/>
<text x="56.10" y="305.80" font-size="7.0" text-anchor="middle" stroke="#231f20" stroke-width="0.18" transform="rotate(-90 56.10 305.80)">0.8</text>
<line x1="58.00" y1="281.50" x2="61.40" y2="281.50" stroke="#231f20" stroke-width="0.9"/>
<text x="56.10" y="281.50" font-size="7.0" text-anchor="middle" stroke="#231f20" stroke-width="0.18" transform="rotate(-90 56.10 281.50)">1.0</text>
<line x1="67.30" y1="408.50" x2="230.02" y2="408.50" stroke="#231f20" stroke-width="0.9"/>
<line x1="67.30" y1="408.50" x2="67.30" y2="411.40" stroke="#231f20" stroke-width="0.9"/>
<text x="67.30" y="417.40" font-size="7.1" text-anchor="middle" stroke="#231f20" stroke-width="0.18">0</text>
<line x1="87.64" y1="408.50" x2="87.64" y2="411.40" stroke="#231f20" stroke-width="0.9"/>
<text x="87.64" y="417.40" font-size="7.1" text-anchor="middle" stroke="#231f20" stroke-width="0.18">3</text>
<line x1="107.98" y1="408.50" x2="107.98" y2="411.40" stroke="#231f20" stroke-width="0.9"/>
<text x="107.98" y="417.40" font-size="7.1" text-anchor="middle" stroke="#231f20" stroke-width="0.18">6</text>
<line x1="128.32" y1="408.50" x2="128.32" y2="411.40" stroke="#231f20" stroke-width="0.9"/>
<text x="128.32" y="417.40" font-size="7.1" text-anchor="middle" stroke="#231f20" stroke-width="0.18">9</text>
<line x1="148.66" y1="408.50" x2="148.66" y2="411.40" stroke="#231f20" stroke-width="0.9"/>
<text x="148.66" y="417.40" font-size="7.1" text-anchor="middle" stroke="#231f20" stroke-width="0.18">12</text>
<line x1="169.00" y1="408.50" x2="169.00" y2="411.40" stroke="#231f20" stroke-width="0.9"/>
<text x="169.00" y="417.40" font-size="7.1" text-anchor="middle" stroke="#231f20" stroke-width="0.18">15</text>
<line x1="189.34" y1="408.50" x2="189.34" y2="411.40" stroke="#231f20" stroke-width="0.9"/>
<text x="189.34" y="417.40" font-size="7.1" text-anchor="middle" stroke="#231f20" stroke-width="0.18">18</text>
<line x1="209.68" y1="408.50" x2="209.68" y2="411.40" stroke="#231f20" stroke-width="0.9"/>
<text x="209.68" y="417.40" font-size="7.1" text-anchor="middle" stroke="#231f20" stroke-width="0.18">21</text>
<line x1="230.02" y1="408.50" x2="230.02" y2="411.40" stroke="#231f20" stroke-width="0.9"/>
<text x="230.02" y="417.40" font-size="7.1" text-anchor="middle" stroke="#231f20" stroke-width="0.18">24</text>
<text x="143.20" y="426.70" font-size="8.8" text-anchor="middle" stroke="#231f20" stroke-width="0.18" textLength="98.60" lengthAdjust="spacingAndGlyphs">Follow−up time (months)</text>
<text x="41.80" y="388.60" font-size="9.2" stroke="#231f20" stroke-width="0.18" transform="rotate(-90 41.80 388.60)" textLength="87.00" lengthAdjust="spacingAndGlyphs">Probability of survival</text>
<text x="45.00" y="437.60" font-size="7.4" stroke="#231f20" stroke-width="0.18">OS</text>
<text x="45.00" y="446.00" font-size="7.4" stroke="#231f20" stroke-width="0.18">PFS</text>
<text x="69.90" y="437.60" font-size="7.4" text-anchor="middle" stroke="#231f20" stroke-width="0.18">20</text>
<text x="69.90" y="446.00" font-size="7.4" text-anchor="middle" stroke="#231f20" stroke-width="0.18">20</text>
<text x="86.54" y="437.60" font-size="7.4" text-anchor="middle" stroke="#231f20" stroke-width="0.18">18</text>
<text x="86.54" y="446.00" font-size="7.4" text-anchor="middle" stroke="#231f20" stroke-width="0.18">13</text>
<text x="106.88" y="437.60" font-size="7.4" text-anchor="middle" stroke="#231f20" stroke-width="0.18">13</text>
<text x="106.88" y="446.00" font-size="7.4" text-anchor="middle" stroke="#231f20" stroke-width="0.18">6</text>
<text x="128.42" y="437.60" font-size="7.4" text-anchor="middle" stroke="#231f20" stroke-width="0.18">8</text>
<text x="128.42" y="446.00" font-size="7.4" text-anchor="middle" stroke="#231f20" stroke-width="0.18">5</text>
<text x="148.76" y="437.60" font-size="7.4" text-anchor="middle" stroke="#231f20" stroke-width="0.18">5</text>
<text x="148.76" y="446.00" font-size="7.4" text-anchor="middle" stroke="#231f20" stroke-width="0.18">3</text>
<text x="169.10" y="437.60" font-size="7.4" text-anchor="middle" stroke="#231f20" stroke-width="0.18">3</text>
<text x="169.10" y="446.00" font-size="7.4" text-anchor="middle" stroke="#231f20" stroke-width="0.18">1</text>
<text x="189.04" y="437.60" font-size="7.4" text-anchor="middle" stroke="#231f20" stroke-width="0.18">2</text>
<text x="189.04" y="446.00" font-size="7.4" text-anchor="middle" stroke="#231f20" stroke-width="0.18">1</text>
<text x="209.38" y="437.60" font-size="7.4" text-anchor="middle" stroke="#231f20" stroke-width="0.18">2</text>
<text x="209.38" y="446.00" font-size="7.4" text-anchor="middle" stroke="#231f20" stroke-width="0.18">1</text>
<path d="M67.30 281.50H71.50V287.50H76.50V299.50H82.50V305.50H83.50V317.50H87.50V330.50H91.50V348.50H95.50V354.50H102.50V360.50H106.50V366.50H109.50V372.50H132.50V378.50H138.50V384.50H149.50V390.50H153.50V396.50H208.60" fill="none" stroke="#231f20" stroke-width="1.1" stroke-dasharray="4.6 5.4"/>
<path d="M67.30 281.50H82.50V287.50H83.50V293.50H87.50V299.50H94.50V305.50H95.50V311.50H102.50V317.50H105.50V324.50H113.50V330.50H114.50V336.50H118.50V342.50H120.50V348.50H127.50V354.50H133.50V360.50H135.50V372.50H162.50V384.50H172.50V390.50H209.00" fill="none" stroke="#231f20" stroke-width="1.1"/>
<line x1="97.40" y1="284.40" x2="105.70" y2="284.40" stroke="#231f20" stroke-width="1.0" stroke-dasharray="3.1 2.1"/>
<line x1="97.40" y1="294.70" x2="106.70" y2="294.70" stroke="#231f20" stroke-width="1.0"/>
<text x="112.80" y="286.30" font-size="7.3" stroke="#231f20" stroke-width="0.18">PFS (3.6 months; 90% CI, 2.9–6.2 months)</text>
<text x="113.60" y="297.30" font-size="7.3" stroke="#231f20" stroke-width="0.18">OS (7.8 months; 90% CI, 5.7–10.3 months)</text>
<text x="295.00" y="256.00" font-size="11.8" font-weight="bold" fill="#000" stroke="#000" stroke-width="0.18">D</text>
<text x="315.0" y="265.3" font-size="10.9" fill="#231f20">Expansion maintenance cohort (<tspan font-style="italic">n</tspan> = 10)</text>
<line x1="323.00" y1="281.85" x2="323.00" y2="400.65" stroke="#231f20" stroke-width="0.9"/>
<line x1="319.60" y1="400.25" x2="323.00" y2="400.25" stroke="#231f20" stroke-width="0.9"/>
<text x="317.70" y="398.35" font-size="7.0" text-anchor="middle" stroke="#231f20" stroke-width="0.18" transform="rotate(-90 317.70 398.35)">0.0</text>
<line x1="319.60" y1="376.65" x2="323.00" y2="376.65" stroke="#231f20" stroke-width="0.9"/>
<text x="317.70" y="376.65" font-size="7.0" text-anchor="middle" stroke="#231f20" stroke-width="0.18" transform="rotate(-90 317.70 376.65)">0.2</text>
<line x1="319.60" y1="353.05" x2="323.00" y2="353.05" stroke="#231f20" stroke-width="0.9"/>
<text x="317.70" y="353.05" font-size="7.0" text-anchor="middle" stroke="#231f20" stroke-width="0.18" transform="rotate(-90 317.70 353.05)">0.4</text>
<line x1="319.60" y1="329.45" x2="323.00" y2="329.45" stroke="#231f20" stroke-width="0.9"/>
<text x="317.70" y="329.45" font-size="7.0" text-anchor="middle" stroke="#231f20" stroke-width="0.18" transform="rotate(-90 317.70 329.45)">0.6</text>
<line x1="319.60" y1="305.85" x2="323.00" y2="305.85" stroke="#231f20" stroke-width="0.9"/>
<text x="317.70" y="305.85" font-size="7.0" text-anchor="middle" stroke="#231f20" stroke-width="0.18" transform="rotate(-90 317.70 305.85)">0.8</text>
<line x1="319.60" y1="282.25" x2="323.00" y2="282.25" stroke="#231f20" stroke-width="0.9"/>
<text x="317.70" y="282.25" font-size="7.0" text-anchor="middle" stroke="#231f20" stroke-width="0.18" transform="rotate(-90 317.70 282.25)">1.0</text>
<line x1="328.40" y1="408.50" x2="491.12" y2="408.50" stroke="#231f20" stroke-width="0.9"/>
<line x1="328.40" y1="408.50" x2="328.40" y2="411.40" stroke="#231f20" stroke-width="0.9"/>
<text x="328.40" y="417.40" font-size="7.1" text-anchor="middle" stroke="#231f20" stroke-width="0.18">0</text>
<line x1="348.74" y1="408.50" x2="348.74" y2="411.40" stroke="#231f20" stroke-width="0.9"/>
<text x="348.74" y="417.40" font-size="7.1" text-anchor="middle" stroke="#231f20" stroke-width="0.18">3</text>
<line x1="369.08" y1="408.50" x2="369.08" y2="411.40" stroke="#231f20" stroke-width="0.9"/>
<text x="369.08" y="417.40" font-size="7.1" text-anchor="middle" stroke="#231f20" stroke-width="0.18">6</text>
<line x1="389.42" y1="408.50" x2="389.42" y2="411.40" stroke="#231f20" stroke-width="0.9"/>
<text x="389.42" y="417.40" font-size="7.1" text-anchor="middle" stroke="#231f20" stroke-width="0.18">9</text>
<line x1="409.76" y1="408.50" x2="409.76" y2="411.40" stroke="#231f20" stroke-width="0.9"/>
<text x="409.76" y="417.40" font-size="7.1" text-anchor="middle" stroke="#231f20" stroke-width="0.18">12</text>
<line x1="430.10" y1="408.50" x2="430.10" y2="411.40" stroke="#231f20" stroke-width="0.9"/>
<text x="430.10" y="417.40" font-size="7.1" text-anchor="middle" stroke="#231f20" stroke-width="0.18">15</text>
<line x1="450.44" y1="408.50" x2="450.44" y2="411.40" stroke="#231f20" stroke-width="0.9"/>
<text x="450.44" y="417.40" font-size="7.1" text-anchor="middle" stroke="#231f20" stroke-width="0.18">18</text>
<line x1="470.78" y1="408.50" x2="470.78" y2="411.40" stroke="#231f20" stroke-width="0.9"/>
<text x="470.78" y="417.40" font-size="7.1" text-anchor="middle" stroke="#231f20" stroke-width="0.18">21</text>
<line x1="491.12" y1="408.50" x2="491.12" y2="411.40" stroke="#231f20" stroke-width="0.9"/>
<text x="491.12" y="417.40" font-size="7.1" text-anchor="middle" stroke="#231f20" stroke-width="0.18">24</text>
<text x="410.20" y="426.70" font-size="8.8" text-anchor="middle" stroke="#231f20" stroke-width="0.18" textLength="98.60" lengthAdjust="spacingAndGlyphs">Follow−up time (months)</text>
<text x="303.40" y="382.80" font-size="9.2" stroke="#231f20" stroke-width="0.18" transform="rotate(-90 303.40 382.80)" textLength="87.00" lengthAdjust="spacingAndGlyphs">Probability of survival</text>
<text x="319.30" y="437.60" font-size="7.4" text-anchor="end" stroke="#231f20" stroke-width="0.18">OS</text>
<text x="319.30" y="446.00" font-size="7.4" text-anchor="end" stroke="#231f20" stroke-width="0.18">PFS</text>
<text x="332.50" y="437.60" font-size="7.4" text-anchor="middle" stroke="#231f20" stroke-width="0.18">10</text>
<text x="332.50" y="446.00" font-size="7.4" text-anchor="middle" stroke="#231f20" stroke-width="0.18">10</text>
<text x="348.84" y="437.60" font-size="7.4" text-anchor="middle" stroke="#231f20" stroke-width="0.18">9</text>
<text x="348.84" y="446.00" font-size="7.4" text-anchor="middle" stroke="#231f20" stroke-width="0.18">7</text>
<text x="369.18" y="437.60" font-size="7.4" text-anchor="middle" stroke="#231f20" stroke-width="0.18">6</text>
<text x="369.18" y="446.00" font-size="7.4" text-anchor="middle" stroke="#231f20" stroke-width="0.18">4</text>
<text x="389.52" y="437.60" font-size="7.4" text-anchor="middle" stroke="#231f20" stroke-width="0.18">4</text>
<text x="389.52" y="446.00" font-size="7.4" text-anchor="middle" stroke="#231f20" stroke-width="0.18">3</text>
<text x="409.86" y="437.60" font-size="7.4" text-anchor="middle" stroke="#231f20" stroke-width="0.18">4</text>
<text x="409.86" y="446.00" font-size="7.4" text-anchor="middle" stroke="#231f20" stroke-width="0.18">3</text>
<text x="430.20" y="437.60" font-size="7.4" text-anchor="middle" stroke="#231f20" stroke-width="0.18">3</text>
<text x="430.20" y="446.00" font-size="7.4" text-anchor="middle" stroke="#231f20" stroke-width="0.18">1</text>
<text x="450.54" y="437.60" font-size="7.4" text-anchor="middle" stroke="#231f20" stroke-width="0.18">2</text>
<text x="450.54" y="446.00" font-size="7.4" text-anchor="middle" stroke="#231f20" stroke-width="0.18">1</text>
<text x="470.88" y="437.60" font-size="7.4" text-anchor="middle" stroke="#231f20" stroke-width="0.18">2</text>
<text x="470.88" y="446.00" font-size="7.4" text-anchor="middle" stroke="#231f20" stroke-width="0.18">1</text>
<path d="M328.40 282.50H331.50V294.50H343.50V305.50H347.50V317.50H353.50V329.50H359.50V341.50H364.50V353.50H379.50V364.50H414.50V376.50H425.50V388.50H471.40" fill="none" stroke="#231f20" stroke-width="1.1" stroke-dasharray="4.6 5.4"/>
<path d="M328.40 282.50H347.50V294.50H353.50V305.50H357.50V317.50H361.50V329.50H379.50V341.50H388.50V353.50H414.50V364.50H436.50V376.50H471.80" fill="none" stroke="#231f20" stroke-width="1.1"/>
<line x1="361.20" y1="284.40" x2="369.50" y2="284.40" stroke="#231f20" stroke-width="1.0" stroke-dasharray="3.1 2.1"/>
<line x1="361.20" y1="294.70" x2="370.50" y2="294.70" stroke="#231f20" stroke-width="1.0"/>
<text x="376.00" y="286.30" font-size="7.3" stroke="#231f20" stroke-width="0.18">PFS (5.0 months; 90% CI, 2.8–14.2 months)</text>
<text x="376.80" y="297.30" font-size="7.3" stroke="#231f20" stroke-width="0.18">OS (8.3 months; 90% CI, 4.2–21.3 months)</text>
</svg>
</body>
</html>
